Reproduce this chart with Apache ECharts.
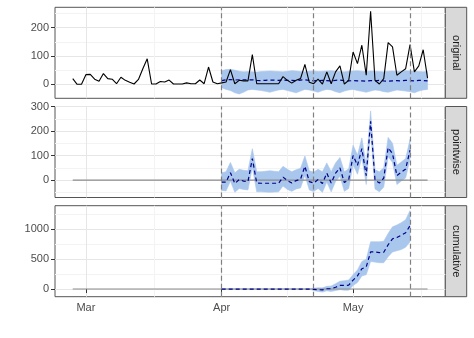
<!DOCTYPE html>
<html><head><meta charset="utf-8">
<script src="https://cdn.jsdelivr.net/npm/echarts@6/dist/echarts.min.js"></script>
<style>html,body{margin:0;padding:0;background:#fff}#c{width:474px;height:338px}</style>
</head><body><div id="c"></div>
<script>
// ---------- data ----------
const startDate = '2019-02-26';           // first observation, daily series
const original = [20,0,0,34,35,18,11,38,20,18, 2,25,14,7,1,17,55,90,1,1,
  10,8,15,1,1,1,5,2,2,15, 2,61,8,2,5,8,52,2,14,12, 12,105,2,2,2,2,2,2,27,14,
  4,14,20,70,7,2,18,1,44,2, 44,65,1,14,114,73,138,32,258,14, 1,20,147,132,32,44,55,140,44,65,
  122,22];
const postStart = '2019-04-01';           // first date of the post-period series below
const predicted = [13,16,17,15,16,16,15,16,14,13, 14,15,15,14,15,14,14,13,15,16,
  14,12,13,14,13,12,14,15,13,12, 13,12,12,11,13,12,14,12,11,12, 13,12,14,13,12,14,13,12];
const predUpper = [48,52,53,50,46,44,45,44,43,45, 46,47,46,45,44,46,48,47,45,44,
  46,47,45,46,47,48,46,45,44,46, 47,48,46,45,47,46,45,44,46,47, 45,46,48,47,46,45,44,46];
const predLower = [-12,-18,-22,-30,-34,-28,-20,-18,-20,-22, -25,-28,-24,-20,-18,-22,-26,-30,-24,-18,
  -20,-24,-28,-22,-18,-20,-26,-30,-24,-20, -18,-22,-25,-28,-24,-20,-22,-26,-28,-24, -20,-22,-24,-26,-30,-24,-20,-18];
const pointwise = [-8,-8,30,-14,2,-4,-6,88,-12,-13, -13,-13,-13,-13,12,-2,-12,-2,4,56,
  -6,-12,2,-14,28,-12,28,50,-10,2, 100,60,128,18,240,0,-12,8,132,108, 18,32,45,122];
const pointLower = [-42,-44,-4,-50,-34,-38,-40,52,-48,-48, -49,-50,-49,-48,-24,-38,-46,-36,-32,20,
  -40,-47,-34,-50,-8,-48,-6,16,-46,-34, 64,24,92,-18,204,-36,-48,-28,96,72, -18,-4,9,86];
const pointUpper = [30,34,72,30,44,40,38,128,34,34, 36,38,36,34,56,44,34,42,48,98,
  38,32,44,34,70,34,70,92,34,46, 142,102,172,60,282,42,34,50,174,150, 60,74,88,166];
const cumulative = [0,0,0,0,0,0,0,0,0,0, 0,0,0,0,0,0,0,0,0,0, 0,
  -5,-10,-15,5,5,30,60,60,65,150, 220,340,370,620,620,610,615,740,840,860, 900,940,1060];
const cumLower = [0,0,0,0,0,0,0,0,0,0, 0,0,0,0,0,0,0,0,0,0, 0,
  -25,-40,-50,-30,-40,-25,-10,-20,-20,60, 110,220,240,460,450,440,440,540,620,640, 660,700,790];
const cumUpper = [0,0,0,0,0,0,0,0,0,0, 0,0,0,0,0,0,0,0,0,0, 0,
  15,20,20,45,50,90,130,140,150,240, 320,460,500,790,790,790,800,930,1040,1070, 1110,1160,1310];
const eventDates = ['2019-04-01', '2019-04-22', '2019-05-14'];
const monthTicks = ['2019-03-01', '2019-04-01', '2019-05-01'];
const monthMinor = ['2019-03-16T12:00:00Z', '2019-04-16T00:00:00Z', '2019-05-16T12:00:00Z'];
const monthNames = ['Jan','Feb','Mar','Apr','May','Jun','Jul','Aug','Sep','Oct','Nov','Dec'];
const yMajor = [[0,100,200], [0,100,200,300], [0,500,1000]];
const yMinor = [[-50,50,150,250], [-50,50,150,250], [250,750,1250]];
const yRange = [[-49.5,272], [-71,300], [-128,1393]];
const stripLabels = ['original', 'pointwise', 'cumulative'];

// ---------- helpers ----------
const DAY = 86400000;
const t = s => Date.parse(s.length === 10 ? s + 'T00:00:00Z' : s);
const t0 = t(startDate);
const xs = original.map((_, i) => t0 + i * DAY);
const p0 = t(postStart);
const postX = n => Array.from({length: n}, (_, i) => p0 + i * DAY);
const lastX = xs[xs.length - 1];
const xMin = t0 - 4.05 * DAY, xMax = lastX + 4.05 * DAY;

const FONT = "'Liberation Sans', Arial, sans-serif";
const BAND = '#a9c6ec';
const tops = [7.3, 106.5, 205.7];
const H = 91, LEFT = 55, W = 390.3;

const grids = tops.map(tp => ({left: LEFT, top: tp, width: W, height: H,
  show: true, borderColor: '#555', borderWidth: 1, backgroundColor: 'transparent'}));

const xAxes = [], yAxes = [];
tops.forEach((_, gi) => {
  xAxes.push({type: 'value', gridIndex: gi, min: xMin, max: xMax,
    axisLine: {show: false},
    axisTick: {show: gi === 2, customValues: monthTicks.map(t), length: 4, lineStyle: {color: '#333'}},
    axisLabel: {show: gi === 2, customValues: monthTicks.map(t), margin: 6, color: '#4d4d4d',
      fontSize: 11, fontFamily: FONT, formatter: v => monthNames[new Date(v).getUTCMonth()]},
    splitLine: {show: true, lineStyle: {color: '#e6e6e6', width: 1}}});
  xAxes.push({type: 'value', gridIndex: gi, min: xMin, max: xMax,
    axisLine: {show: false}, axisLabel: {show: false},
    axisTick: {show: false, customValues: monthMinor.map(t)},
    splitLine: {show: true, lineStyle: {color: '#f3f3f3', width: 1}}});
  yAxes.push({type: 'value', gridIndex: gi, min: yRange[gi][0], max: yRange[gi][1],
    axisLine: {show: false},
    axisTick: {show: true, customValues: yMajor[gi], length: 4, lineStyle: {color: '#333'}},
    axisLabel: {customValues: yMajor[gi], margin: 6, color: '#4d4d4d', fontSize: 11, fontFamily: FONT,
      formatter: v => String(v)},
    splitLine: {show: true, lineStyle: {color: '#e6e6e6', width: 1}}});
  yAxes.push({type: 'value', gridIndex: gi, min: yRange[gi][0], max: yRange[gi][1],
    axisLine: {show: false}, axisLabel: {show: false},
    axisTick: {show: false, customValues: yMinor[gi]},
    splitLine: {show: true, lineStyle: {color: '#f3f3f3', width: 1}}});
});

function band(gi, lo, hi) {
  const x = postX(lo.length);
  const data = x.map((v, i) => [v, lo[i], hi[i]]);
  return {type: 'custom', xAxisIndex: gi * 2, yAxisIndex: gi * 2, z: 1, silent: true,
    data, encode: {x: 0, y: [1, 2]},
    renderItem(params, api) {
      if (params.dataIndex !== 0) return null;
      const top = data.map(d => api.coord([d[0], d[2]]));
      const bot = data.map(d => api.coord([d[0], d[1]])).reverse();
      return {type: 'polygon', shape: {points: top.concat(bot)},
        style: {fill: BAND, stroke: BAND, lineWidth: 0.6}};
    }};
}
function line(gi, x, y, color, type, width, z, withEvents) {
  const s = {type: 'line', xAxisIndex: gi * 2, yAxisIndex: gi * 2, z, silent: true,
    showSymbol: false, symbol: 'none',
    data: x.map((v, i) => [v, y[i]]),
    lineStyle: {color, type, width}};
  if (withEvents) s.markLine = {silent: true, symbol: ['none', 'none'], label: {show: false},
    lineStyle: {color: '#808080', type: [5, 3], width: 1.2},
    data: eventDates.map(d => ({xAxis: t(d)}))};
  return s;
}
const zeroX = [xs[0], lastX];
const series = [
  band(0, predLower, predUpper),
  line(0, postX(predicted.length), predicted, '#00008b', [4, 3], 1.2, 3, false),
  line(0, xs, original, '#000', 'solid', 1.1, 4, true),
  band(1, pointLower, pointUpper),
  line(1, zeroX, [0, 0], '#8c8c8c', 'solid', 1.1, 2, false),
  line(1, postX(pointwise.length), pointwise, '#00008b', [4, 3], 1.2, 3, true),
  band(2, cumLower, cumUpper),
  line(2, zeroX, [0, 0], '#8c8c8c', 'solid', 1.1, 2, false),
  line(2, postX(cumulative.length), cumulative, '#00008b', [4, 3], 1.2, 3, true)
];

const graphic = stripLabels.map((s, i) => ({type: 'group', children: [
  {type: 'rect', shape: {x: LEFT + W, y: tops[i], width: 21.4, height: H},
    style: {fill: '#d9d9d9', stroke: '#555', lineWidth: 1}},
  {type: 'text', x: LEFT + W + 10.7, y: tops[i] + H / 2, rotation: -Math.PI / 2,
    style: {text: s, fill: '#1a1a1a', fontSize: 11, fontFamily: FONT, align: 'center', verticalAlign: 'middle'}}
]}));

const chart = echarts.init(document.getElementById('c'), null, {renderer: 'canvas'});
chart.setOption({animation: false, textStyle: {fontFamily: FONT},
  grid: grids, xAxis: xAxes, yAxis: yAxes, series, graphic});
</script></body></html>
